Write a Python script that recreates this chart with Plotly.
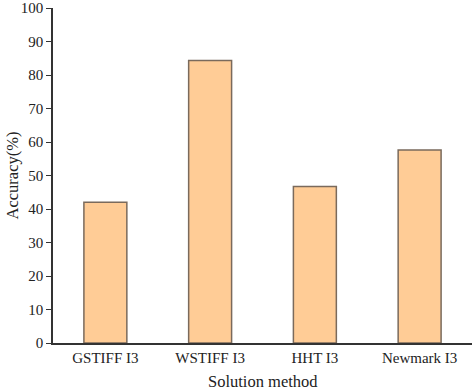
import plotly.graph_objects as go

categories = ["GSTIFF I3", "WSTIFF I3", "HHT I3", "Newmark I3"]
accuracy = [42.0, 84.3, 46.7, 57.6]
y_ticks = [0, 10, 20, 30, 40, 50, 60, 70, 80, 90, 100]

FONT = "Liberation Serif, Times New Roman, serif"

fig = go.Figure(
    go.Bar(
        x=categories,
        y=accuracy,
        marker=dict(color="#FFCC96", line=dict(color="#7A6A5C", width=1.5)),
        width=0.41,
    )
)

fig.update_layout(
    width=474,
    height=392,
    margin=dict(l=53, r=2, t=8, b=49),
    paper_bgcolor="white",
    plot_bgcolor="white",
    font=dict(family=FONT, size=15, color="#222"),
    showlegend=False,
    annotations=[
        dict(text="Accuracy(%)", xref="paper", yref="paper", x=-41 / 419,
             y=0.5, textangle=-90, showarrow=False, font=dict(size=16.5),
             xanchor="center", yanchor="middle"),
        dict(text="Solution method", xref="paper", yref="paper", x=0.5,
             y=-(381 - 343) / 335, showarrow=False, font=dict(size=16.5),
             xanchor="center", yanchor="middle"),
    ],
)

fig.update_xaxes(
    automargin=False,
    showline=True,
    linecolor="#333",
    linewidth=1.5,
    ticks="",
    showgrid=False,
    tickfont=dict(size=15),
)
fig.update_yaxes(
    automargin=False,
    range=[0, 100],
    tickvals=y_ticks,
    ticklabeloverflow="allow",
    showline=True,
    linecolor="#333",
    linewidth=1.5,
    ticks="outside",
    ticklen=5,
    tickwidth=1.2,
    tickcolor="#333",
    showgrid=False,
    zeroline=False,
    tickfont=dict(size=15),
)

fig.write_html(
    "out.html",
    config={"displayModeBar": False},
    post_script="document.body.style.margin='0';",
)
